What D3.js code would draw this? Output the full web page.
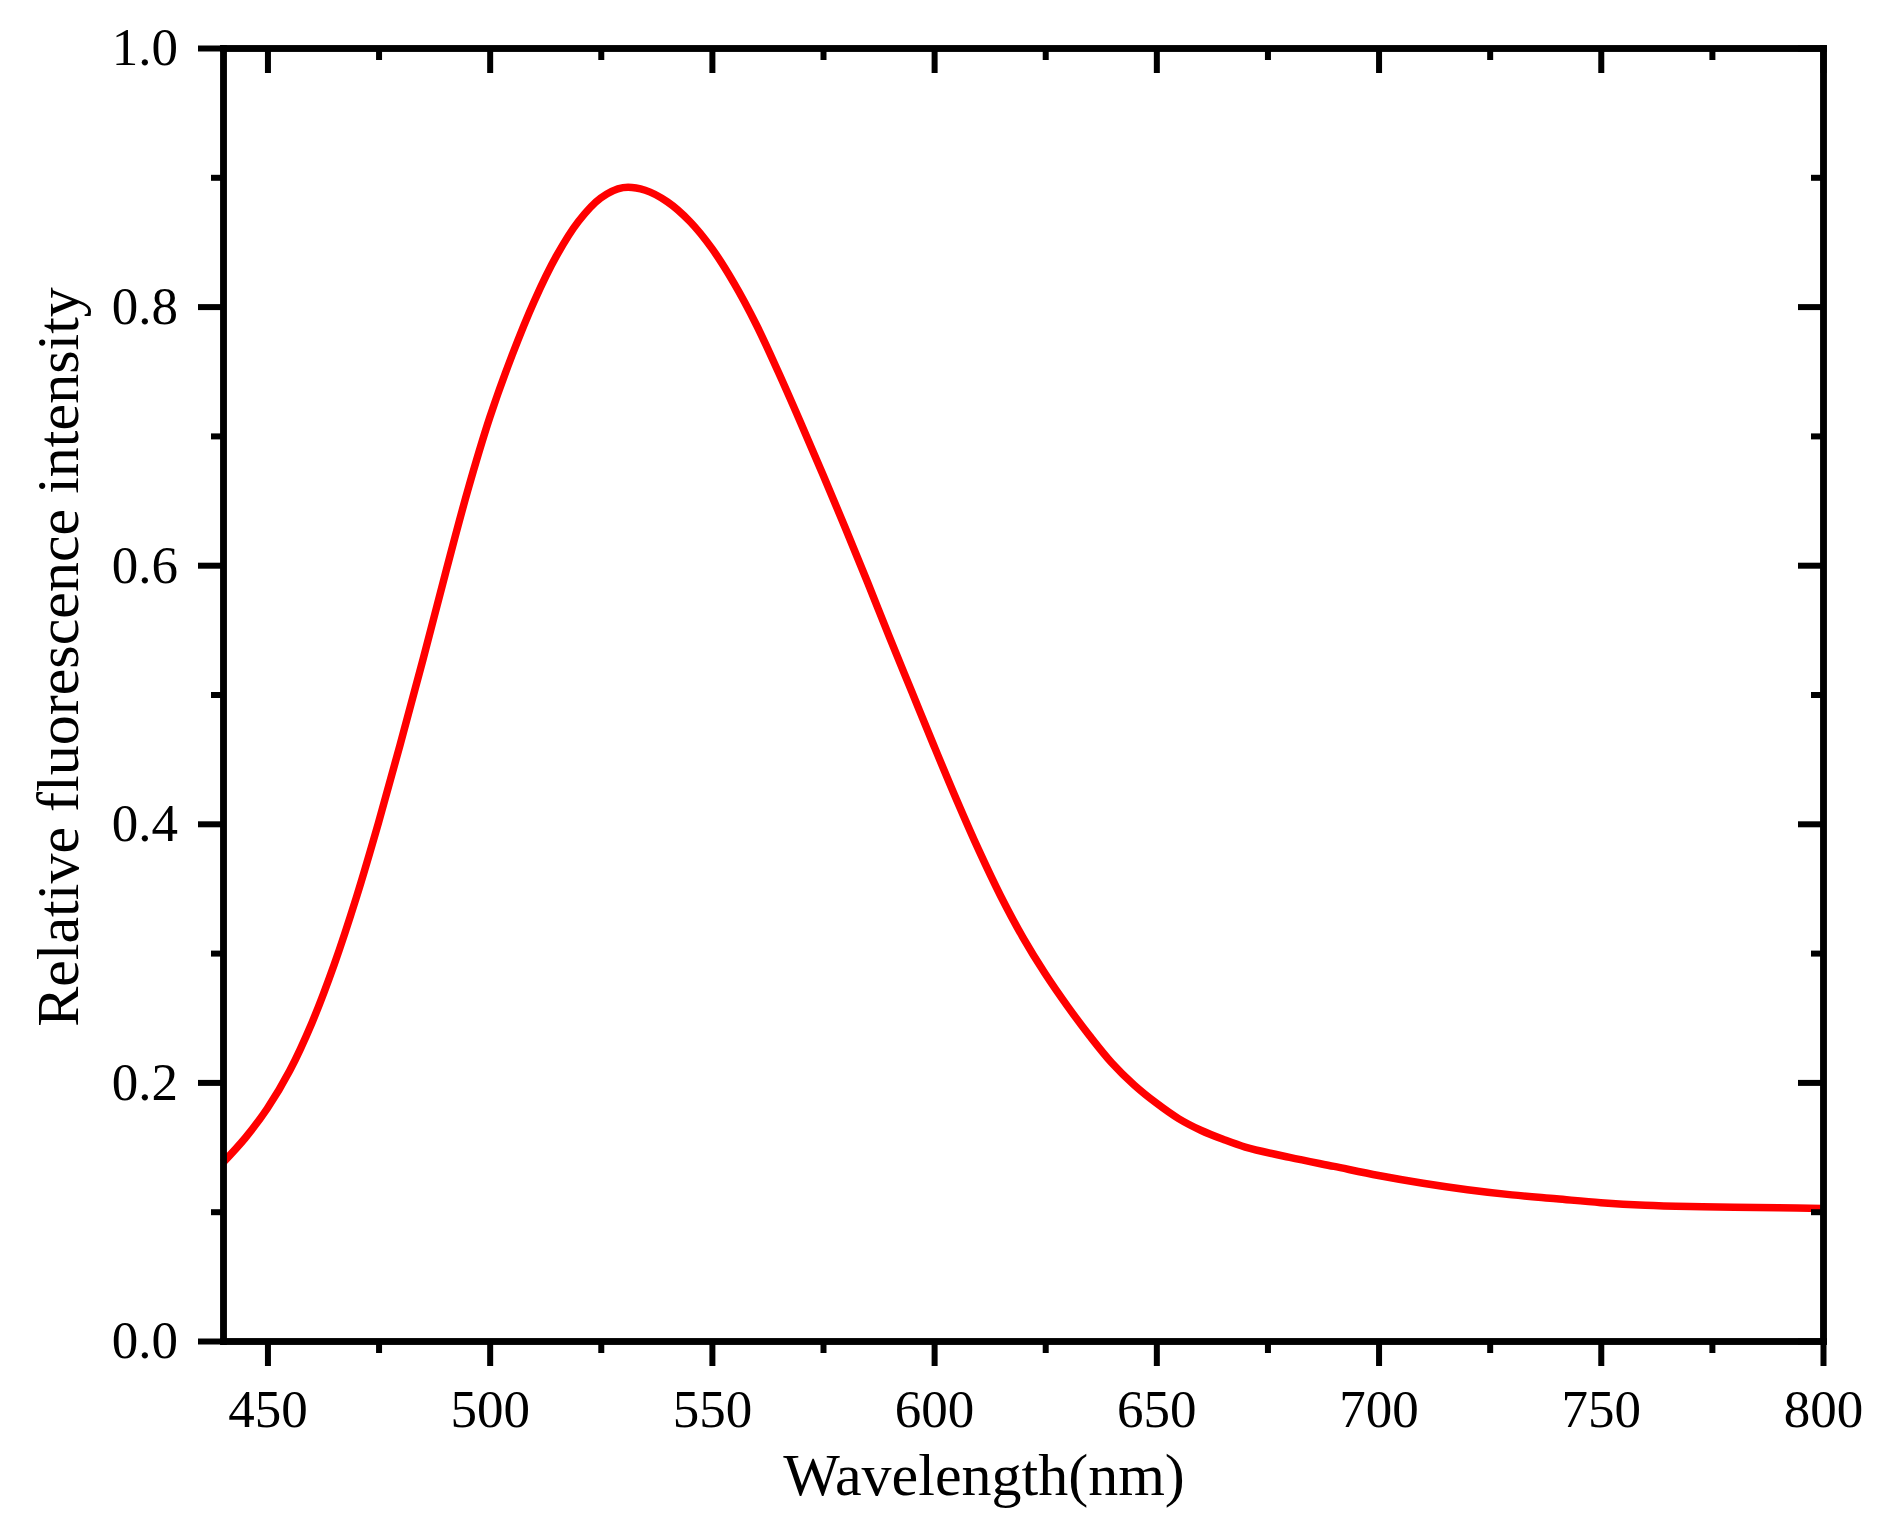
<!DOCTYPE html>
<html>
<head>
<meta charset="utf-8">
<script src="https://cdn.jsdelivr.net/npm/d3@7"></script>
<style>
  body { margin: 0; background: #fff; }
  svg { display: block; }
  .axis text { font-family: "Liberation Serif", "Times New Roman", serif; font-size: 53px; fill: #000; }
  .axis path, .axis line { stroke: #000; }
  .title { font-family: "Liberation Serif", "Times New Roman", serif; font-size: 60px; fill: #000; }
</style>
</head>
<body>
<div id="chart-area"></div>
<script>
// emission spectrum
var wavelength = [440, 445, 450, 455, 460, 465, 470, 475, 480, 485, 490, 495, 500, 505, 510, 515, 520, 525, 530,
                  535, 540, 545, 550, 555, 560, 565, 570, 575, 580, 585, 590, 595, 600, 605, 610, 615, 620, 625,
                  630, 635, 640, 645, 650, 655, 660, 665, 670, 680, 690, 700, 710, 720, 730, 740, 750, 760, 770,
                  780, 790, 800];
var intensity = [0.138, 0.157, 0.180, 0.209, 0.246, 0.291, 0.343, 0.401, 0.463, 0.527, 0.593, 0.657, 0.714, 0.762,
                 0.804, 0.839, 0.866, 0.884, 0.892, 0.890, 0.881, 0.866, 0.845, 0.818, 0.786, 0.749, 0.710, 0.670,
                 0.629, 0.587, 0.544, 0.502, 0.460, 0.419, 0.380, 0.344, 0.312, 0.284, 0.259, 0.236, 0.215, 0.198,
                 0.184, 0.172, 0.163, 0.156, 0.150, 0.142, 0.135, 0.128, 0.122, 0.117, 0.113, 0.110, 0.107, 0.105,
                 0.104, 0.1035, 0.103, 0.1025];

var xMajor = [450, 500, 550, 600, 650, 700, 750, 800];
var xMinor = [475, 525, 575, 625, 675, 725, 775];
var yMajor = [0.0, 0.2, 0.4, 0.6, 0.8, 1.0];
var yMinor = [0.1, 0.3, 0.5, 0.7, 0.9];

var data = wavelength.map((w, i) => ({ w: w, v: intensity[i] }));

var margin = { left: 223, right: 72, top: 48, bottom: 191 };
var width = 1895 - margin.left - margin.right;
var height = 1532 - margin.top - margin.bottom;

var svg = d3.select("#chart-area").append("svg")
    .attr("width", 1895)
    .attr("height", 1532);

var g = svg.append("g")
    .attr("transform", "translate(" + margin.left + ", " + margin.top + ")");

var x = d3.scaleLinear().domain([440, 800]).range([0, width]);
var y = d3.scaleLinear().domain([0, 1]).range([height, 0]);

// curve first, axes drawn on top
var line = d3.line()
    .x(d => x(d.w))
    .y(d => y(d.v))
    .curve(d3.curveCatmullRom.alpha(0.5));

g.append("path")
    .datum(data)
    .attr("fill", "none")
    .attr("stroke", "#ff0000")
    .attr("stroke-width", 7.5)
    .attr("stroke-linejoin", "round")
    .attr("d", line);

function styleAxis(sel) {
    sel.select(".domain").attr("stroke-width", 6.5).attr("stroke-linecap", "square");
    sel.selectAll(".tick line").attr("stroke-width", 6);
}

// minor ticks
g.append("g").attr("class", "axis")
    .attr("transform", "translate(0," + height + ")")
    .call(d3.axisBottom(x).tickValues(xMinor).tickSize(12).tickSizeOuter(0).tickFormat(""))
    .call(styleAxis);
g.append("g").attr("class", "axis")
    .call(d3.axisTop(x).tickValues(xMinor).tickSize(-12).tickSizeOuter(0).tickFormat(""))
    .call(styleAxis);
g.append("g").attr("class", "axis")
    .call(d3.axisLeft(y).tickValues(yMinor).tickSize(12).tickSizeOuter(0).tickFormat(""))
    .call(styleAxis);
g.append("g").attr("class", "axis")
    .attr("transform", "translate(" + width + ",0)")
    .call(d3.axisRight(y).tickValues(yMinor).tickSize(-12).tickSizeOuter(0).tickFormat(""))
    .call(styleAxis);

// major ticks
g.append("g").attr("class", "axis")
    .attr("transform", "translate(0," + height + ")")
    .call(d3.axisBottom(x).tickValues(xMajor).tickSize(25).tickPadding(23).tickSizeOuter(0).tickFormat(d3.format("d")))
    .call(styleAxis);
g.append("g").attr("class", "axis")
    .call(d3.axisTop(x).tickValues(xMajor).tickSize(-25).tickSizeOuter(0).tickFormat(""))
    .call(styleAxis);
g.append("g").attr("class", "axis")
    .call(d3.axisLeft(y).tickValues(yMajor).tickSize(25).tickPadding(20).tickSizeOuter(0).tickFormat(d3.format(".1f")))
    .call(styleAxis);
g.append("g").attr("class", "axis")
    .attr("transform", "translate(" + width + ",0)")
    .call(d3.axisRight(y).tickValues(yMajor).tickSize(-25).tickSizeOuter(0).tickFormat(""))
    .call(styleAxis);

svg.selectAll(".axis").attr("font-family", null).attr("font-size", null);

// axis titles
svg.append("text")
    .attr("class", "title")
    .attr("x", 984)
    .attr("y", 1495)
    .attr("text-anchor", "middle")
    .text("Wavelength(nm)");

svg.append("text")
    .attr("class", "title")
    .attr("transform", "translate(78,657) rotate(-90)")
    .attr("text-anchor", "middle")
    .text("Relative fluorescence intensity");
</script>
</body>
</html>
